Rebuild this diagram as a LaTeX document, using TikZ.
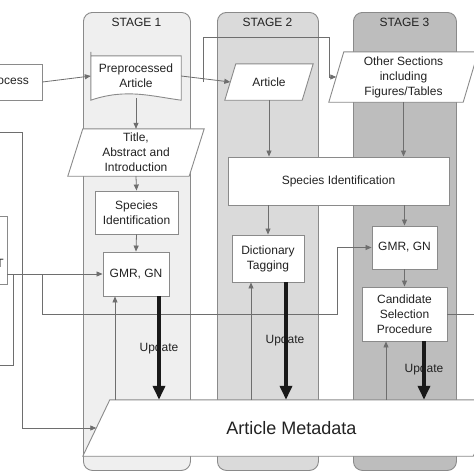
\documentclass[tikz,border=0pt]{standalone}
\usepackage{fontspec}
\setmainfont{Liberation Sans}
\usetikzlibrary{arrows.meta,shapes.geometric,calc}
\definecolor{laneA}{HTML}{EFEFEF}
\definecolor{laneB}{HTML}{DADADA}
\definecolor{laneC}{HTML}{BDBDBD}
\definecolor{edgegray}{HTML}{8A8A8A}
\definecolor{linegray}{HTML}{6E6E6E}
\definecolor{txt}{HTML}{222222}
\pgfdeclarelayer{lanes}
\pgfdeclarelayer{shapes}
\pgfsetlayers{lanes,shapes,main}
\newcommand\drawpara[2]{\begin{pgfonlayer}{shapes}\draw[box] ([xshift=#2]#1.north west) -- (#1.north east) -- ([xshift=-#2]#1.south east) -- (#1.south west) -- cycle;\end{pgfonlayer}}
\begin{document}
\begin{tikzpicture}[x=1pt,y=-1pt,
  every node/.style={font=\fontsize{12}{15}\selectfont, text=txt, inner sep=0pt, align=center},
  lane/.style={draw=edgegray, line width=0.9pt, rounded corners=9pt, anchor=north west, minimum height=458pt},
  box/.style={draw=edgegray, fill=white, line width=0.9pt},
  rbox/.style={box, rectangle},
  conn/.style={draw=linegray, line width=0.8pt, -{Triangle[length=6pt,width=5pt]}},
  plain/.style={draw=linegray, line width=0.8pt},
  bigarrow/.style={draw=black!90, line width=3.5pt, -{Triangle[length=14pt,width=12pt]}},
  stagelbl/.style={font=\fontsize{12}{14}\selectfont}
]
\useasboundingbox (0,0) rectangle (474,474);
% lanes
\begin{pgfonlayer}{lanes}
\node[lane, fill=laneA, minimum width=107pt] (lane1) at (83,12) {};
\node[lane, fill=laneB, minimum width=101pt] (lane2) at (217,12) {};
\node[lane, fill=laneC, minimum width=103pt] (lane3) at (353,12) {};
\end{pgfonlayer}
\node[stagelbl] (st1) at (136.5,22) {STAGE 1};
\node[stagelbl] (st2) at (267.5,22) {STAGE 2};
\node[stagelbl] (st3) at (404.5,22) {STAGE 3};

% left side
\node[rbox, minimum width=87pt, minimum height=36pt] (prep) at (-1.5,82) {Preprocess};
\node[cylinder, shape border rotate=90, draw=edgegray, fill=white, line width=0.9pt, minimum width=50pt, minimum height=68pt, aspect=0.3] (db) at (-18,251) {};
\node[anchor=east] (dbtext) at (4,263) {T};

% stage 1
\node[minimum width=90pt, minimum height=40pt] (pre) at (136,76) {Preprocessed\\Article};
\begin{pgfonlayer}{shapes}
\draw[box] (pre.south west) -- ([yshift=4pt]pre.north west) -- (pre.north west) -- (pre.north east) -- ([yshift=-4pt]pre.south east)
  .. controls +(-30,-4) and +(35,-12) .. ([yshift=-4pt]pre.south west) -- cycle;
\end{pgfonlayer}
\node[minimum width=136pt, minimum height=47pt] (title) at (136,152.5) {Title,\\Abstract and\\Introduction};
\drawpara{title}{15pt}
\node[rbox, minimum width=83pt, minimum height=43pt] (sp1) at (136.5,212.5) {Species\\Identification};
\node[rbox, minimum width=66pt, minimum height=44pt] (gmr1) at (136,274) {GMR, GN};

% stage 2
\node[minimum width=88pt, minimum height=36pt] (art) at (269,82) {Article};
\drawpara{art}{11pt}
\node[rbox, minimum width=221pt, minimum height=48pt] (bigsp) at (338.5,181) {Species Identification};
\node[rbox, minimum width=72pt, minimum height=47pt] (dict) at (268,258.5) {Dictionary\\Tagging};

% stage 3
\node[minimum width=149pt, minimum height=50pt] (oth) at (403.5,77) {Other Sections\\including\\Figures/Tables};
\drawpara{oth}{15pt}
\node[rbox, minimum width=65pt, minimum height=43pt] (gmr3) at (404.5,247.5) {GMR, GN};
\node[rbox, minimum width=85pt, minimum height=54pt] (cand) at (404.5,314) {Candidate\\Selection\\Procedure};

% article metadata
\node[minimum width=417pt, minimum height=56pt, font=\fontsize{18}{20}\selectfont] (am) at (291.5,428) {Article Metadata};
\drawpara{am}{27pt}

% coordinates
\coordinate (br) at (203,82);
\coordinate (tr) at (329,37);
\coordinate (offl) at (-5,132);
\coordinate (tl) at (22,132);
\coordinate (dbout) at (7,274);
\coordinate (j1) at (13,274);
\coordinate (offl2) at (-5,365);
\coordinate (j2) at (42,274);
\coordinate (j3) at (337,314);
\coordinate (offr) at (480,314);
\coordinate (x1) at (159,0);
\coordinate (x2) at (286,0);
\coordinate (x3) at (424,0);
\coordinate (u1) at (115,0);
\coordinate (u2) at (251,0);
\coordinate (u3) at (386,0);

% connectors
\draw[conn] (prep.east) -- (pre.west);
\draw[conn] (pre.east) -- ([xshift=5.5pt]art.west);
\draw[conn] (br) |- (tr) |- ([xshift=7.5pt]oth.west);
\draw[conn] ([yshift=-2pt]pre.south) -- (title.north);
\draw[conn] (title.south) -- (sp1.north);
\draw[conn] (sp1.south) -- (gmr1.north);
\draw[conn] (art.south) -- (art.south |- bigsp.north);
\draw[conn] (oth.south) -- (oth.south |- bigsp.north);
\draw[conn] (dict.north |- bigsp.south) -- (dict.north);
\draw[conn] (gmr3.north |- bigsp.south) -- (gmr3.north);
\draw[conn] (gmr3.south) -- (cand.north);

\draw[conn] (offl) -- (tl) |- ([xshift=13.5pt]am.west);
\draw[conn] (dbout) -- (gmr1.west);
\draw[plain] (j1) |- (offl2);
\draw[conn] (j2) |- (j3) |- (gmr3.west);
\draw[plain] (cand.east) -- (offr);

\draw[conn] (u1 |- am.north) -- (u1 |- gmr1.south);
\draw[conn] (u2 |- am.north) -- (u2 |- dict.south);
\draw[conn] (u3 |- am.north) -- (u3 |- cand.south);

% update labels and thick arrows
\node (up1) at (159,348) {Update};
\node (up2) at (285,340) {Update};
\node (up3) at (424,369) {Update};
\draw[bigarrow] (x1 |- gmr1.south) -- (x1 |- am.north);
\draw[bigarrow] (x2 |- dict.south) -- (x2 |- am.north);
\draw[bigarrow] (x3 |- cand.south) -- (x3 |- am.north);
\end{tikzpicture}
\end{document}
